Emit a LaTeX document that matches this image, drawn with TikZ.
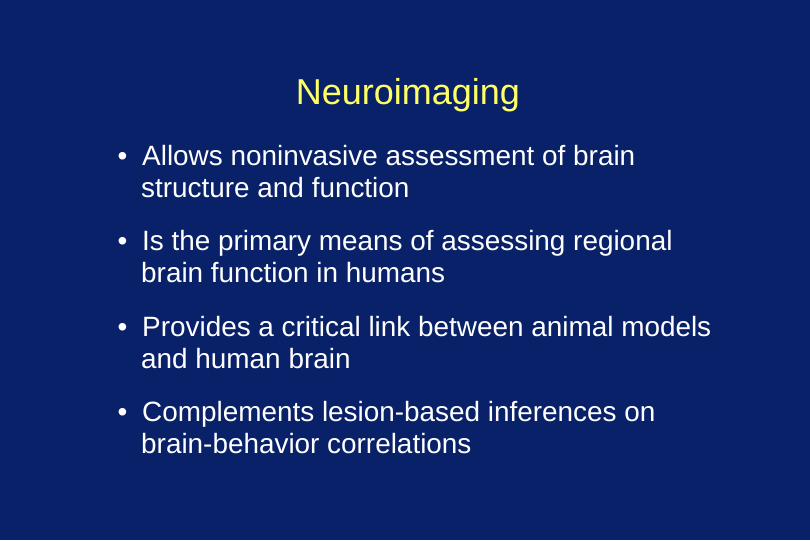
\documentclass[tikz,border=0pt]{standalone}
\usepackage{fontspec}
\setmainfont{Liberation Sans}
\definecolor{bg}{RGB}{9,33,104}
\definecolor{ttl}{RGB}{255,255,102}
\begin{document}
\begin{tikzpicture}[x=1pt,y=-1pt,
  line/.style={anchor=base west,inner sep=0pt,text=white,font=\fontsize{27.9}{28}\selectfont},
  bul/.style={anchor=base west,inner sep=0pt,text=white,font=\fontsize{27.9}{28}\selectfont}]
\fill[bg] (0,0) rectangle (810,540);
\useasboundingbox (0,0) rectangle (810,540);
\node[anchor=base,inner sep=0pt,text=ttl,font=\fontsize{36}{36}\selectfont] (t) at (408,105) {Neuroimaging};
\foreach \y/\a/\b/\n in {165/{Allows noninvasive assessment of brain}/{structure and function}/a,
  250/{Is the primary means of assessing regional}/{brain function in humans}/b,
  336/{Provides a critical link between animal models}/{and human brain}/c,
  421/{Complements lesion-based inferences on}/{brain-behavior correlations}/d}{
  \node[bul] (b\n) at (117.5,\y) {•};
  \node[line] (l\n) at (142,\y) {\a};
  \node[line] (m\n) at (141,\y+32) {\b};
}
\end{tikzpicture}
\end{document}
